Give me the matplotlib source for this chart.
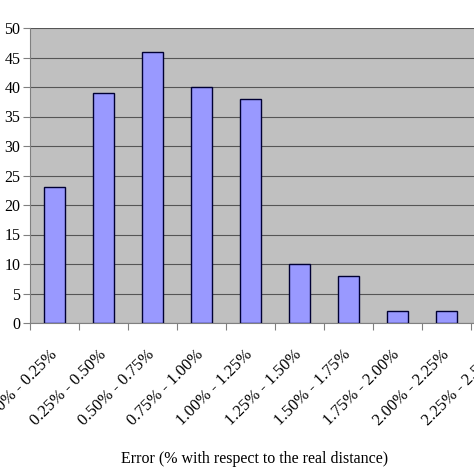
import matplotlib
matplotlib.use("Agg")
import matplotlib.pyplot as plt
import numpy as np

categories = ["0.00% - 0.25%", "0.25% - 0.50%", "0.50% - 0.75%", "0.75% - 1.00%",
              "1.00% - 1.25%", "1.25% - 1.50%", "1.50% - 1.75%", "1.75% - 2.00%",
              "2.00% - 2.25%", "2.25% - 2.50%"]
counts = [23, 39, 46, 40, 38, 10, 8, 2, 2, 1]
yticks = [0, 5, 10, 15, 20, 25, 30, 35, 40, 45, 50]
xlabel = "Error (% with respect to the real distance)"

plt.rcParams['font.family'] = ['Liberation Serif', 'DejaVu Serif']

fig = plt.figure(figsize=(4.74, 4.74), dpi=100)
W = H = 474.0
left, right, bottom, top = 30, 520, 323, 28
ax = fig.add_axes([left / W, 1 - bottom / H, (right - left) / W, (bottom - top) / H])
ax.set_facecolor('#C0C0C0')

x = np.arange(len(categories))
ax.bar(x, counts, width=0.43, color='#9999FF', edgecolor='#000033', linewidth=1.0, zorder=3)

ax.set_xlim(-0.5, len(categories) - 0.5)
ax.set_ylim(0, 50)
ax.set_yticks(yticks)
ax.set_yticklabels([str(v) for v in yticks], fontsize=11.5)
ax.yaxis.grid(True, color='#555555', linewidth=0.8, zorder=1)
ax.set_axisbelow(True)

ax.set_xticks(x - 0.5, minor=False)
ax.set_xticklabels([])
ax.tick_params(axis='x', direction='out', length=5, color='#808080')
ax.tick_params(axis='y', direction='out', length=5, color='#808080', pad=2)

for xi, lab in zip(x, categories):
    ax.annotate(lab, xy=(xi, 0), xycoords=('data', 'data'), xytext=(0, -21),
                textcoords='offset points', rotation=45, rotation_mode='anchor',
                ha='right', va='center', fontsize=12, annotation_clip=False)

for s in ['top', 'right']:
    ax.spines[s].set_visible(False)
ax.spines['left'].set_color('#808080')
ax.spines['bottom'].set_color('#808080')

fig.text(255 / W, 1 - 459 / H, xlabel, ha='center', va='center', fontsize=11.5)

fig.savefig('out.png', dpi=100)
